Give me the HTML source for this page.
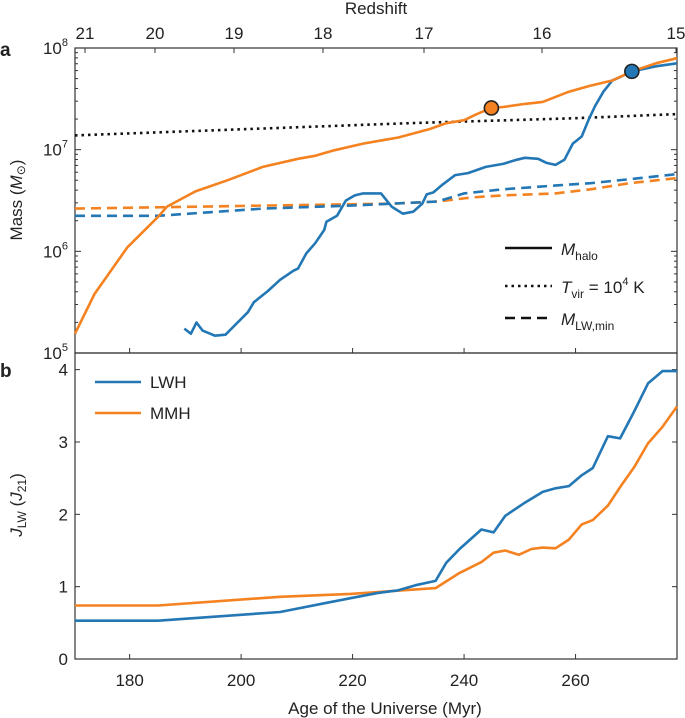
<!DOCTYPE html>
<html><head><meta charset="utf-8"><style>
body{margin:0;background:#fff}
svg{display:block;font-family:"Liberation Sans",sans-serif;fill:#222}
</style></head><body>
<svg id="c" width="685" height="718" xmlns="http://www.w3.org/2000/svg"></svg>
<script>
const haloT_MMH=[170.2,173.7,179.6,185.1,186.7,191.8,197.6,203.9,210.2,213.3,216.4,221.9,228.2,233.7,236.8,240.0,242.3,244.9,247.0,250.9,254.1,258.8,262.7,266.6,270.1,274.4,278.2];
const haloM_MMH=[5.19,5.58,6.04,6.34,6.44,6.59,6.70,6.83,6.91,6.94,6.99,7.06,7.12,7.20,7.26,7.29,7.35,7.41,7.42,7.45,7.47,7.57,7.63,7.68,7.77,7.85,7.90];
const haloT_LWH=[189.8,191.0,192.0,193.1,195.3,197.2,199.2,201.2,202.3,204.8,207.0,209.4,210.2,211.7,213.3,214.9,215.3,217.2,218.8,220.4,221.9,225.1,227.0,229.0,230.9,232.5,233.3,234.5,236.0,238.4,240.7,242.3,243.9,247.0,249.4,250.9,253.3,254.8,256.4,258.0,259.5,261.1,262.3,263.5,265.0,266.6,268.2,270.1,274.4,278.2];
const haloM_LWH=[5.24,5.19,5.30,5.22,5.17,5.18,5.29,5.40,5.50,5.61,5.72,5.81,5.83,5.98,6.08,6.21,6.29,6.35,6.50,6.55,6.57,6.57,6.44,6.37,6.39,6.47,6.56,6.58,6.65,6.75,6.77,6.80,6.83,6.86,6.90,6.92,6.91,6.87,6.85,6.90,7.06,7.13,7.29,7.43,7.57,7.68,7.72,7.77,7.82,7.85];
const tvirT=[170.2,200,230,260,278.2];
const tvirM=[7.14,7.20,7.26,7.31,7.35];
const lwminT_MMH=[170.2,203.9,227.4,235.2,241.5,247.0,256.4,262.7,269.7,278.2];
const lwminM_MMH=[6.42,6.45,6.47,6.49,6.53,6.55,6.57,6.61,6.67,6.72];
const lwminT_LWH=[170.2,185.1,203.9,219.6,235.2,240.0,247.0,257.2,262.7,269.7,278.2];
const lwminM_LWH=[6.35,6.35,6.42,6.45,6.49,6.57,6.61,6.65,6.67,6.71,6.76];
const markerT=[244.9,270.1];
const markerM=[7.41,7.77];
const jT_LWH=[170.2,185.1,207.0,214.9,219.6,224.3,228.2,231.3,234.9,236.8,239.2,243.1,245.3,247.4,250.9,254.1,256.4,258.8,261.1,263.1,265.8,268.0,270.5,273.0,275.6,278.2];
const jV_LWH=[0.53,0.53,0.65,0.77,0.84,0.91,0.95,1.02,1.08,1.33,1.52,1.79,1.75,1.98,2.16,2.31,2.36,2.39,2.54,2.64,3.08,3.05,3.42,3.81,3.98,3.98];
const jT_MMH=[170.2,185.1,207.0,219.6,234.9,239.2,243.1,245.3,247.4,249.8,252.1,254.1,256.4,258.8,261.1,263.1,265.8,268.2,270.5,273.0,275.6,278.2];
const jV_MMH=[0.74,0.74,0.86,0.90,0.98,1.19,1.34,1.47,1.50,1.44,1.52,1.54,1.53,1.65,1.86,1.92,2.12,2.40,2.65,2.98,3.21,3.49];
const xTicks=[180,200,220,240,260];
const zLabels=["21","20","19","18","17","16","15"];
const zPos=[85,155,234,323,424,542,676];
const yTicksB=[0,1,2,3,4];

const svg=document.getElementById('c');
const NS='http://www.w3.org/2000/svg';
const BLUE='#2377b5',ORANGE='#f58220';
const L=75,R=677,AT=48,AB=353,BT=353,BB=659;
const X0=170.2,X1=278.2;
const sx=t=>L+(t-X0)/(X1-X0)*(R-L);
const syA=m=>AT+(8-m)/3*(AB-AT);
const syB=v=>BB-v/4.23*(BB-BT);
function el(tag,attrs,parent){const e=document.createElementNS(NS,tag);for(const k in attrs)e.setAttribute(k,attrs[k]);(parent||svg).appendChild(e);return e;}
function txt(x,y,s,opt,name){const e=el('text',Object.assign({x:x,y:y,'font-size':17},opt||{}));e.innerHTML=s;


return e;}
function line(ts,vs,sy,color,dash,name){const d=ts.map((t,i)=>(i?'L':'M')+sx(t).toFixed(1)+','+sy(vs[i]).toFixed(1)).join('');
const p=el('path',{d:d,fill:'none',stroke:color,'stroke-width':2.6,'stroke-dasharray':dash||'none','stroke-linejoin':'round'});


return p;}
const fa=el('rect',{x:L,y:AT,width:R-L,height:AB-AT,fill:'none',stroke:'#333','stroke-width':1.2});


const fb=el('rect',{x:L,y:BT,width:R-L,height:BB-BT,fill:'none',stroke:'#333','stroke-width':1.2});


xTicks.forEach(t=>{const x=sx(t);
el('line',{x1:x,x2:x,y1:BB,y2:BB-5,stroke:'#333'});
el('line',{x1:x,x2:x,y1:AB,y2:AB-5,stroke:'#333'});
txt(x,686,t,{'text-anchor':'middle'},'x-tick-label');});
zLabels.forEach((z,i)=>{el('line',{x1:zPos[i],x2:zPos[i],y1:AT,y2:AT+5,stroke:'#333'});
txt(zPos[i],39,z,{'text-anchor':'middle'},'redshift-tick-label');});
txt(376,14,'Redshift',{'text-anchor':'middle'},'top-axis-title');
for(let d=5;d<8;d++){for(let k=1;k<10;k++){const y=syA(d+Math.log10(k));const len=k==1?6:3;
el('line',{x1:L,x2:L+len,y1:y,y2:y,stroke:'#333'});el('line',{x1:R,x2:R-len,y1:y,y2:y,stroke:'#333'});}}
[5,6,7,8].forEach(d=>{txt(68,syA(d)+6,'10<tspan dy="-8" font-size="11">'+d+'</tspan>',{'text-anchor':'end'},'y-tick-label-a');});
yTicksB.forEach(v=>{const y=syB(v);el('line',{x1:L,x2:L+5,y1:y,y2:y,stroke:'#333'});el('line',{x1:R,x2:R-5,y1:y,y2:y,stroke:'#333'});
txt(68,y+6,v,{'text-anchor':'end'},'y-tick-label-b');});
txt(0,56,'a',{'font-weight':'bold','font-size':19},'panel-a-label');
txt(0,377,'b',{'font-weight':'bold','font-size':19},'panel-b-label');
txt(22,200,'Mass (<tspan font-style="italic">M</tspan><tspan font-size="12" dy="3">⊙</tspan><tspan dy="-3">)</tspan>',{transform:'rotate(-90 22 200)','text-anchor':'middle'},'y-axis-title-a');
txt(22,505,'<tspan font-style="italic">J</tspan><tspan font-size="12" dy="4">LW</tspan><tspan dy="-4"> (</tspan><tspan font-style="italic">J</tspan><tspan font-size="12" dy="4">21</tspan><tspan dy="-4">)</tspan>',{transform:'rotate(-90 22 505)','text-anchor':'middle'},'y-axis-title-b');
txt(385,714,'Age of the Universe (Myr)',{'text-anchor':'middle'},'x-axis-title');
line(tvirT,tvirM,syA,'#111','2.5 4','tvir-line');
line(lwminT_MMH,lwminM_MMH,syA,ORANGE,'10 6','mlwmin-mmh');
line(lwminT_LWH,lwminM_LWH,syA,BLUE,'10 6','mlwmin-lwh');
line(haloT_LWH,haloM_LWH,syA,BLUE,null,'mhalo-lwh');
line(haloT_MMH,haloM_MMH,syA,ORANGE,null,'mhalo-mmh');
[ORANGE,BLUE].forEach((c,i)=>{const m=el('circle',{cx:sx(markerT[i]),cy:syA(markerM[i]),r:7,fill:c,stroke:'#222','stroke-width':1.6});

});
const lg=[['none','M','halo',248],['2.5 4','T','vir',286],['10 6','M','LW,min',318]];
lg.forEach((g,i)=>{el('line',{x1:505,x2:552,y1:g[3],y2:g[3],stroke:'#111','stroke-width':2.6,'stroke-dasharray':g[0]});
txt(561,g[3]+7,'<tspan font-style="italic">'+g[1]+'</tspan><tspan font-size="12" dy="5">'+g[2]+'</tspan>'+(i==1?'<tspan dy="-5"> = 10</tspan><tspan font-size="11" dy="-8">4</tspan><tspan dy="8"> K</tspan>':''),{},'legend-entry');});
line(jT_MMH,jV_MMH,syB,ORANGE,null,'jlw-mmh');
line(jT_LWH,jV_LWH,syB,BLUE,null,'jlw-lwh');
[[BLUE,'LWH',382],[ORANGE,'MMH',413]].forEach(g=>{el('line',{x1:95,x2:141,y1:g[2],y2:g[2],stroke:g[0],'stroke-width':2.6});
txt(150,g[2]+6,g[1],{},'legend-entry-b');});
</script>
</body></html>
